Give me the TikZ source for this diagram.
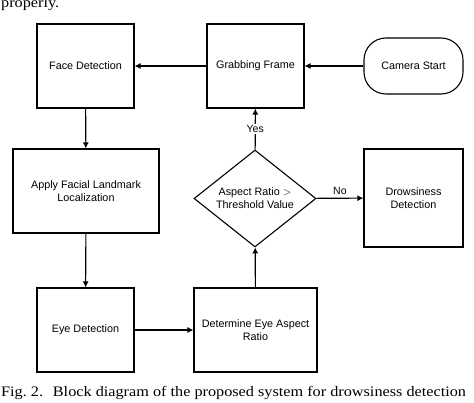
\documentclass[tikz,border=0pt]{standalone}
\usepackage{fontspec}
\setmainfont{Liberation Serif}
\setsansfont{Liberation Sans}
\usetikzlibrary{shapes, shapes.geometric, arrows.meta, positioning}
\tikzstyle{block} = [draw=black, line width=1.1pt, fill=white, font=\sffamily\fontsize{10.8}{13}\selectfont, align=center, inner sep=2pt]
\tikzstyle{startstop} = [block, rounded corners=22pt]
\tikzstyle{decision} = [block, diamond, inner sep=0pt, aspect=1.26]
\tikzstyle{line} = [draw, -{Latex[length=6pt,width=6pt]}, line width=1.1pt]
\tikzstyle{tag} = [font=\sffamily\fontsize{10.5}{12}\selectfont]

\begin{document}
\begin{tikzpicture}[x=1pt, y=-1pt]
\useasboundingbox (0,0) rectangle (474,403);

\node [anchor=base west, inner sep=0pt, font=\fontsize{14.5}{16}\selectfont] (prev) at (1,8) {\scalebox{1.12}[1]{properly.}};

\node [block, minimum width=97pt, minimum height=84pt] (face) at (85.5,66) {Face Detection};
\node [block, minimum width=97pt, minimum height=84pt] (grab) at (255.5,66) {Grabbing Frame};
\node [startstop, minimum width=99pt, minimum height=56pt] (cam) at (413.5,66) {Camera Start};
\node [block, minimum width=146pt, minimum height=84pt] (apply) at (86,191) {Apply Facial Landmark\\Localization};
\node [decision, minimum width=122pt, minimum height=97pt] (ratio) at (255,198.5) {Aspect Ratio $>$\\Threshold Value};
\node [block, minimum width=99pt, minimum height=98pt] (drow) at (413.5,198) {Drowsiness\\Detection};
\node [block, minimum width=97pt, minimum height=84pt] (eye) at (85.5,330) {Eye Detection};
\node [block, minimum width=123pt, minimum height=84pt] (ear) at (255.5,330) {Determine Eye Aspect\\Ratio};

\path [line] (cam) -- (grab);
\path [line] (grab) -- (face);
\path [line] (face) -- (apply);
\path [line] (apply) -- (eye);
\path [line] (eye) -- (ear);
\path [line] (ear) -- (ratio);
\path [line] (ratio) -- node [tag, above] {No} (drow);
\path [line] (ratio) -- node [tag, fill=white, inner sep=1pt] {Yes} (grab);

\node [anchor=west, inner sep=0pt, font=\fontsize{14.5}{16}\selectfont] (cap) at (1,393) {\scalebox{1.12}[1]{Fig.~2.\hspace{0.6em}Block diagram of the proposed system for drowsiness detection}};

\end{tikzpicture}
\end{document}
